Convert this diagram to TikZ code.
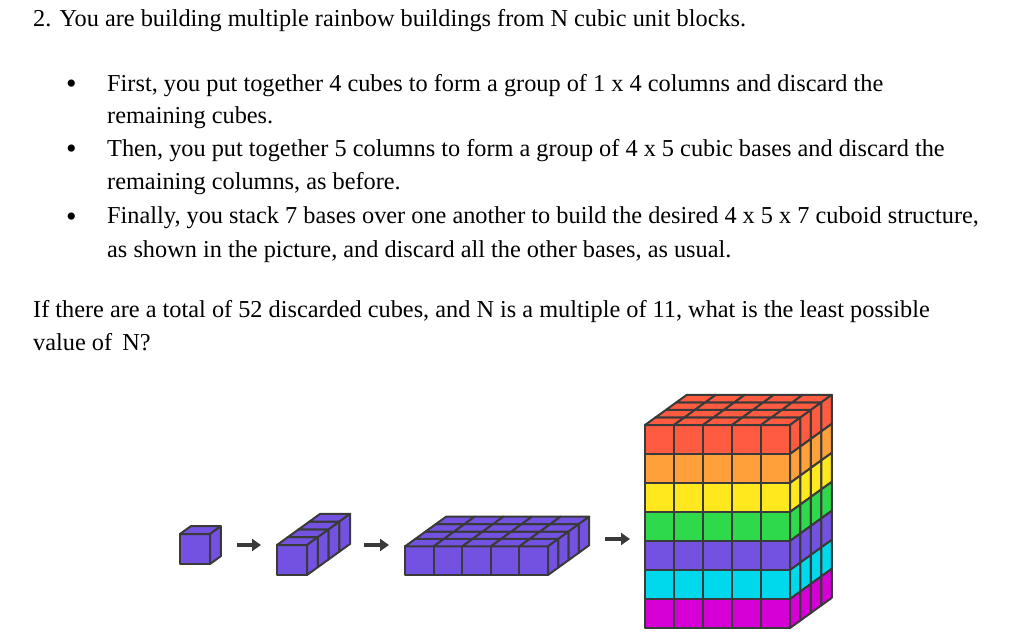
\documentclass[tikz,border=0pt]{standalone}
\usepackage{fontspec}
\setmainfont{Liberation Serif}
\usetikzlibrary{arrows.meta}
\definecolor{vio}{HTML}{7352E2}
\definecolor{c1}{HTML}{FF5B40}
\definecolor{c2}{HTML}{FFA03A}
\definecolor{c3}{HTML}{FFE81E}
\definecolor{c4}{HTML}{2ED94B}
\definecolor{c5}{HTML}{7352E2}
\definecolor{c6}{HTML}{00D8EC}
\definecolor{c7}{HTML}{D600D6}
\definecolor{edge}{HTML}{3A3A3A}
\tikzset{cb/.style={draw=edge,line width=2pt,line join=round},
 txt/.style={anchor=base west,inner sep=0pt,font=\fontsize{24.3}{29}\selectfont},
 bul/.style={anchor=base west,inner sep=0pt,font=\fontsize{30}{30}\selectfont},
 arr/.style={draw=edge,line width=3.5pt,-{Triangle[length=9pt,width=12pt]}}}
\newcommand\blk[7]{%
 \pgfmathsetmacro\ddx{0.36*#6}\pgfmathsetmacro\ddy{0.26*#6}%
 \foreach \j in {1,...,#4}{\foreach \i in {1,...,#3}{
   \draw[cb,fill=#7] ({#1+(\i-1)*#6},{#2-(#4-\j+1)*#6}) rectangle ++(#6,#6);}}
 \foreach \k in {1,...,#5}{\foreach \i in {1,...,#3}{\def\j{1}
   \draw[cb,fill=#7] ({#1+(\i-1)*#6+(\k-1)*\ddx},{#2-#4*#6-(\k-1)*\ddy}) -- ++(#6,0) -- ++(\ddx,-\ddy) -- ++(-#6,0) -- cycle;}}
 \foreach \k in {1,...,#5}{\foreach \j in {1,...,#4}{
   \draw[cb,fill=#7] ({#1+#3*#6+(\k-1)*\ddx},{#2-(#4-\j)*#6-(\k-1)*\ddy}) -- ++(\ddx,-\ddy) -- ++(0,-#6) -- ++(-\ddx,\ddy) -- cycle;}}
}
\begin{document}
\begin{tikzpicture}[x=1pt,y=-1pt]
\useasboundingbox[fill=white] (0,0) rectangle (1024,636);
\node[txt] (t0) at (33,27) {2. You are building multiple rainbow buildings from N cubic unit blocks.};
\foreach \y/\n in {94/b1,159/b2,226/b3}{\node[bul] (\n) at (66,\y) {\textbullet};}
\node[txt] (l1) at (107,92) {First, you put together 4 cubes to form a group of 1 x 4 columns and discard the};
\node[txt] (l2) at (107,124) {remaining cubes.};
\node[txt] (l3) at (107,157) {Then, you put together 5 columns to form a group of 4 x 5 cubic bases and discard the};
\node[txt] (l4) at (107,190) {remaining columns, as before.};
\node[txt] (l5) at (107,224) {Finally, you stack 7 bases over one another to build the desired 4 x 5 x 7 cuboid structure,};
\node[txt] (l6) at (107,257) {as shown in the picture, and discard all the other bases, as usual.};
\node[txt] (p1) at (33,317) {If there are a total of 52 discarded cubes, and N is a multiple of 11, what is the least possible};
\node[txt] (p2) at (33,350) {value of\, N?};
\blk{180}{564}{1}{1}{1}{30}{vio}
\blk{277}{575}{1}{1}{4}{30}{vio}
\blk{405}{575}{5}{1}{4}{28.6}{vio}
\blk{645}{628}{5}{7}{4}{29}{c\j}
\coordinate (a1s) at (237,545); \coordinate (a1e) at (261,545);
\coordinate (a2s) at (364,545); \coordinate (a2e) at (389,545);
\coordinate (a3s) at (605,539); \coordinate (a3e) at (630,539);
\draw[arr] (a1s) -- (a1e);
\draw[arr] (a2s) -- (a2e);
\draw[arr] (a3s) -- (a3e);
\end{tikzpicture}
\end{document}
